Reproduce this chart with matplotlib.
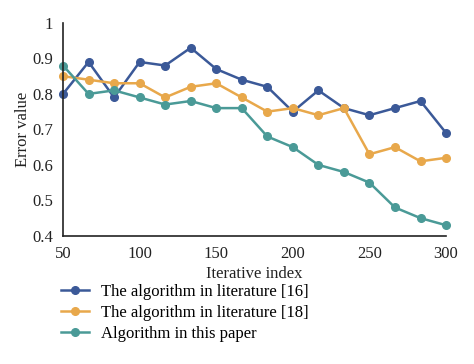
import matplotlib.pyplot as plt
import numpy as np

# Dane
iterations = np.linspace(50, 300, 16)
lit16 = [0.80, 0.89, 0.79, 0.89, 0.88, 0.93, 0.87, 0.84, 0.82, 0.75, 0.81, 0.76, 0.74, 0.76, 0.78, 0.69]
lit18 = [0.85, 0.84, 0.83, 0.83, 0.79, 0.82, 0.83, 0.79, 0.75, 0.76, 0.74, 0.76, 0.63, 0.65, 0.61, 0.62]
ours = [0.88, 0.80, 0.81, 0.79, 0.77, 0.78, 0.76, 0.76, 0.68, 0.65, 0.60, 0.58, 0.55, 0.48, 0.45, 0.43]
labels = ["The algorithm in literature [16]", "The algorithm in literature [18]", "Algorithm in this paper"]
colors = ["#3b5998", "#e8a84b", "#4a9a97"]


def main() -> None:
  plt.rcParams["font.family"] = ["Liberation Serif", "DejaVu Serif"]
  fig = plt.figure(figsize=(4.74, 3.64), dpi=100)
  ax = fig.add_axes([0.133, 0.352, 0.808, 0.585])

  for ys, lab, col in zip([lit16, lit18, ours], labels, colors):
    ax.plot(iterations, ys, color=col, marker="o", markersize=5.5, linewidth=1.8, label=lab)

  ax.set_xlim(50, 300)
  ax.set_ylim(0.4, 1.0)
  ax.set_xticks([50, 100, 150, 200, 250, 300])
  ax.set_yticks([0.4, 0.5, 0.6, 0.7, 0.8, 0.9, 1.0])
  ax.set_yticklabels(["0.4", "0.5", "0.6", "0.7", "0.8", "0.9", "1"])
  ax.tick_params(length=0, labelsize=12, colors="#222222", pad=7)
  for s in ["top", "right"]:
    ax.spines[s].set_visible(False)
  for s in ["left", "bottom"]:
    ax.spines[s].set_color("#222222")
    ax.spines[s].set_linewidth(1.2)
  for ln in ax.lines:
    ln.set_clip_on(False)

  ax.set_xlabel("Iterative index", fontsize=12, color="#222222", labelpad=3)
  ax.set_ylabel("Error value", fontsize=12, color="#222222", labelpad=1)

  ax.legend(loc="upper left", bbox_to_anchor=(-0.005, -0.225), frameon=False,
            fontsize=12, handlelength=1.7, labelspacing=0.3, handletextpad=0.7,
            borderaxespad=0, borderpad=0)

  fig.savefig("out.png", dpi=100)


if __name__ == "__main__":
  main()
